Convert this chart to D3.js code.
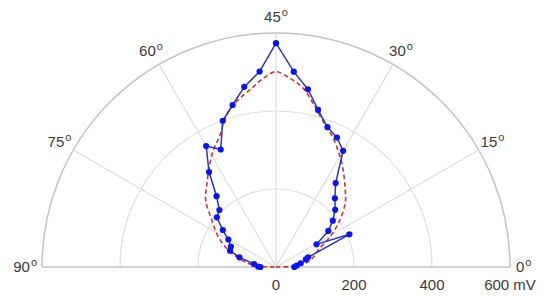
<!DOCTYPE html>
<html>
<head>
<meta charset="utf-8">
<script src="https://cdn.jsdelivr.net/npm/d3@7"></script>
<style>
  html, body { margin: 0; padding: 0; background: #ffffff; }
  svg { display: block; }
  text { font-family: "Liberation Sans", Arial, sans-serif; fill: #3a3a3a; }
</style>
</head>
<body>
<svg id="chart" width="550" height="301"></svg>
<script>
// ---- data ----
const angleTicks = [0, 15, 30, 45, 60, 75, 90];
const radialTicks = [0, 200, 400, 600];
const radialUnit = "mV";

// measured (blue, markers)
const measAngle = [0, 2, 4.3, 7.2, 8.4, 12.0, 14.6, 17.3, 19.6, 22.0, 24.7, 27.3, 30.0, 32.4, 34.9, 37.5, 39.9, 42.4, 45.0,
                   47.4, 50.0, 52.5, 55.0, 57.6, 60.0, 62.6, 65.0, 67.4, 70.0, 72.6, 75.0, 77.8, 80.2, 82.6, 86.1, 89.3, 90];
const measValue = [47, 53, 64, 79, 86, 206, 119, 163, 188, 211, 232, 264, 344, 367, 382, 417, 463, 503, 574,
                   503, 469, 430, 399, 333, 358, 298, 237, 206, 198, 166, 141, 127, 125, 97, 57, 46, 40];

// simulated (red dashed)
const simAngle = [0, 1, 2.5, 4.7, 7.5, 11, 14.6, 17.5, 21.3, 24.6, 28.8, 33, 36, 38.6, 40.7, 42.9, 45,
                  46.9, 48.9, 51.4, 54, 56.75, 59.1, 61.8, 65.1, 68.2, 71.9, 76.2, 80.2, 84.2, 87.5, 89, 90];
const simValue = [0, 35, 60, 84, 100, 117, 159, 195, 241, 271, 315, 361, 392, 430, 464, 485, 501,
                  485, 462, 439, 410, 364, 340, 309, 275, 249, 204, 167, 130, 90, 60, 35, 0];

// ---- layout ----
const cx = 276, cy = 267, R = 234;
const svg = d3.select("#chart");
const g = svg.append("g").attr("transform", `translate(${cx},${cy})`);

// angle (deg, 0..90) -> lineRadial angle (rad, clockwise from 12 o'clock)
const ang = d3.scaleLinear().domain([0, 90]).range([Math.PI / 2, -Math.PI / 2]);
const rad = d3.scaleLinear().domain([0, 600]).range([0, R]);
// screen angle (ccw from +x) in radians
const scr = d => (2 * d) * Math.PI / 180;

// ---- grid ----
radialTicks.filter(v => v > 0).forEach(v => {
  const outer = v === 600;
  g.append("path")
    .attr("d", d3.arc()({ innerRadius: rad(v), outerRadius: rad(v), startAngle: -Math.PI / 2, endAngle: Math.PI / 2 }))
    .attr("fill", "none")
    .attr("stroke", outer ? "#c4c4c4" : "#dedede")
    .attr("stroke-width", outer ? 1.5 : 1.2);
});
// spokes
angleTicks.filter(a => a > 0 && a < 90).forEach(a => {
  g.append("line")
    .attr("x1", 0).attr("y1", 0)
    .attr("x2", rad(600) * Math.cos(scr(a)))
    .attr("y2", -rad(600) * Math.sin(scr(a)))
    .attr("stroke", "#dedede").attr("stroke-width", 1.2);
});
// baseline
g.append("line")
  .attr("x1", -rad(600)).attr("x2", rad(600)).attr("y1", 0).attr("y2", 0)
  .attr("stroke", "#c4c4c4").attr("stroke-width", 1.5);

// ---- angle labels ----
function degLabel(sel, txt) {
  sel.append("tspan").text(txt);
  sel.append("tspan").text("o").attr("font-size", 11).attr("dy", -6).attr("dx", 1);
}
angleTicks.forEach(a => {
  let x, y, anchor = "middle";
  if (a === 0) { x = 240; y = 5; anchor = "start"; }
  else if (a === 90) { x = -239; y = 5; anchor = "end"; }
  else {
    const rr = 250;
    x = rr * Math.cos(scr(a));
    y = -rr * Math.sin(scr(a)) + 5.4;
  }
  const t = g.append("text")
    .attr("x", x).attr("y", y)
    .attr("text-anchor", anchor)
    .attr("font-size", 15);
  degLabel(t, String(a));
});

// ---- radial labels ----
radialTicks.forEach(v => {
  g.append("text")
    .attr("x", rad(v)).attr("y", 22.5)
    .attr("text-anchor", "middle")
    .attr("font-size", 15)
    .text(v === 600 ? `${v} ${radialUnit}` : String(v));
});

// ---- series ----
const simData = simAngle.map((a, i) => [a, simValue[i]]);
const measData = measAngle.map((a, i) => [a, measValue[i]]);

const simLine = d3.lineRadial()
  .angle(d => ang(d[0])).radius(d => rad(d[1]))
  .curve(d3.curveCatmullRom.alpha(0.5));
g.append("path")
  .attr("d", simLine(simData))
  .attr("fill", "none")
  .attr("stroke", "#cc3333")
  .attr("stroke-width", 1.6)
  .attr("stroke-dasharray", "4.5,3");

const measLine = d3.lineRadial()
  .angle(d => ang(d[0])).radius(d => rad(d[1]));
g.append("path")
  .attr("d", measLine(measData))
  .attr("fill", "none")
  .attr("stroke", "#2a35b0")
  .attr("stroke-width", 1.5);

g.selectAll("circle.m").data(measData).enter().append("circle")
  .attr("class", "m")
  .attr("cx", d => rad(d[1]) * Math.cos(scr(d[0])))
  .attr("cy", d => -rad(d[1]) * Math.sin(scr(d[0])))
  .attr("r", 3.1)
  .attr("fill", "#0a14f0");
</script>
</body>
</html>
